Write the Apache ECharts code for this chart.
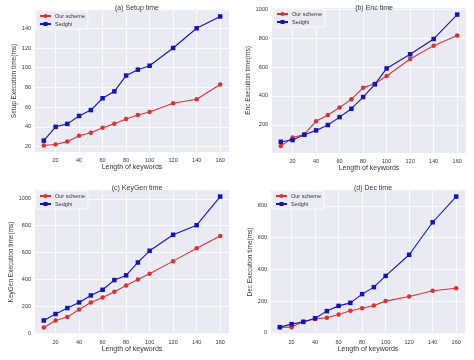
<!DOCTYPE html>
<html>
<head>
<meta charset="utf-8">
<script src="https://cdn.jsdelivr.net/npm/echarts@6/dist/echarts.min.js"></script>
<style>
html,body{margin:0;padding:0;background:#fff;}
#chart{width:474px;height:360px;}
</style>
</head>
<body>
<div id="chart"></div>
<script>
const keywordLengths = [10, 20, 30, 40, 50, 60, 70, 80, 90, 100, 120, 140, 160];
const xTicks = [20, 40, 60, 80, 100, 120, 140, 160];
const seriesNames = ['Our scheme', 'Sedghi'];
const panelTitles = ['(a) Setup time', '(b) Enc time', '(c) KeyGen time', '(d) Dec time'];
const yAxisNames = ['Setup Execution time(ms)', 'Enc Execution time(ms)', 'KeyGen Execution time(ms)', 'Dec Execution time(ms)'];
const xAxisName = 'Length of keywords';

const setupOurs   = [21, 22, 25, 31, 34, 39, 43, 48, 52, 55, 64, 68, 83];
const setupSedghi = [26, 40, 43, 51, 57, 69, 76, 92, 98, 102, 120, 140, 152];
const encOurs     = [52, 112, 133, 225, 267, 320, 376, 457, 484, 538, 655, 748, 819];
const encSedghi   = [82, 94, 131, 161, 198, 253, 311, 392, 480, 590, 688, 794, 963];
const keygenOurs  = [44, 96, 121, 178, 230, 267, 309, 356, 401, 443, 537, 633, 723];
const keygenSedghi= [96, 144, 188, 230, 282, 324, 396, 431, 527, 614, 733, 804, 1017];
const decOurs     = [34, 36, 71, 88, 95, 116, 139, 155, 172, 200, 229, 265, 281];
const decSedghi   = [36, 55, 69, 92, 137, 170, 189, 244, 288, 359, 492, 697, 859];

const yTicksA = [20, 40, 60, 80, 100, 120, 140];
const yTicksB = [200, 400, 600, 800, 1000];
const yTicksC = [0, 200, 400, 600, 800, 1000];
const yTicksD = [0, 200, 400, 600, 800];

const panels = [
  {ours: setupOurs, sedghi: setupSedghi, ticks: yTicksA, min: 14.45, max: 158.55, nameGap: 14.5, grid: {left: 35, top: 10, width: 194, height: 142}},
  {ours: encOurs, sedghi: encSedghi, ticks: yTicksB, min: 4.35, max: 1008.65, nameGap: 17.5, grid: {left: 272, top: 8, width: 194, height: 145}},
  {ours: keygenOurs, sedghi: keygenSedghi, ticks: yTicksC, min: -4.65, max: 1065.65, nameGap: 17.5, grid: {left: 35, top: 190, width: 194, height: 144}},
  {ours: decOurs, sedghi: decSedghi, ticks: yTicksD, min: -7.25, max: 900.25, nameGap: 16, grid: {left: 271, top: 190, width: 194, height: 144}}
];

const FONT = 'Liberation Sans';
const TXT = '#333';
const RED = '#d63238';
const BLUE = '#1414b8';

const option = {
  animation: false,
  backgroundColor: '#fff',
  textStyle: {fontFamily: FONT},
  title: [], legend: [], grid: [], xAxis: [], yAxis: [], series: []
};

panels.forEach((p, i) => {
  const g = p.grid;
  const names = seriesNames.map(n => n + '\u200b'.repeat(i));
  option.grid.push({left: g.left, top: g.top, width: g.width, height: g.height, backgroundColor: '#EAEAF2', show: true, borderWidth: 0});
  option.title.push({
    text: panelTitles[i], left: g.left + g.width / 2, top: (i < 2 ? 0 : 180), textAlign: 'center',
    textStyle: {fontSize: 7, fontWeight: 'normal', color: TXT, fontFamily: FONT}
  });
  option.legend.push({
    data: names,
    orient: 'vertical', left: g.left + 1, top: g.top + 1,
    itemWidth: 11, itemHeight: 5, itemGap: 2, padding: [2, 3, 2, 3],
    backgroundColor: 'rgba(234,234,242,0.8)', borderColor: '#ffffff', borderWidth: 0.8, borderRadius: 2,
    textStyle: {fontSize: 5.5, color: TXT, fontFamily: FONT, padding: [0, 0, 0, -1]}
  });
  option.xAxis.push({
    type: 'value', gridIndex: i, min: 2.5, max: 167.5,
    name: xAxisName, nameLocation: 'middle', nameGap: 12,
    nameTextStyle: {fontSize: 7, color: TXT, fontFamily: FONT},
    axisLine: {show: false}, axisTick: {show: false, customValues: xTicks},
    axisLabel: {customValues: xTicks, fontSize: 5.5, color: TXT, margin: 5, fontFamily: FONT, formatter: v => String(v)},
    splitLine: {show: true, lineStyle: {color: '#ffffff', width: 0.8}}
  });
  option.yAxis.push({
    type: 'value', gridIndex: i, min: p.min, max: p.max,
    name: yAxisNames[i], nameLocation: 'middle', nameGap: p.nameGap,
    nameTextStyle: {fontSize: 6.5, color: TXT, fontFamily: FONT},
    axisLine: {show: false}, axisTick: {show: false, customValues: p.ticks},
    axisLabel: {customValues: p.ticks, fontSize: 5.5, color: TXT, margin: 4, fontFamily: FONT, formatter: v => String(v)},
    splitLine: {show: true, lineStyle: {color: '#ffffff', width: 0.8}}
  });
  [[p.ours, RED, 'circle'], [p.sedghi, BLUE, 'rect']].forEach((s, k) => {
    option.series.push({
      name: names[k], type: 'line', xAxisIndex: i, yAxisIndex: i,
      data: keywordLengths.map((x, j) => [x, s[0][j]]),
      symbol: s[2], symbolSize: 4.5,
      lineStyle: {color: s[1], width: 1.1},
      itemStyle: {color: s[1]},
      z: 3 + k
    });
  });
});

const chart = echarts.init(document.getElementById('chart'), null, {renderer: 'canvas'});
chart.setOption(option);
</script>
</body>
</html>
